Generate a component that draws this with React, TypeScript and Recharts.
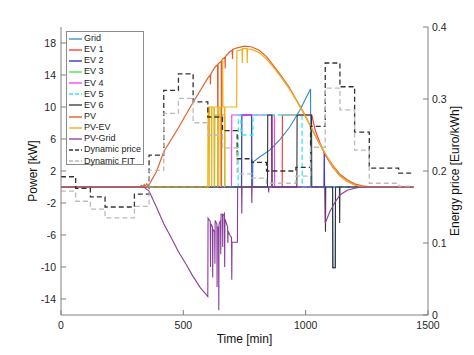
import { LineChart, Line, XAxis, YAxis, Legend } from 'recharts';

type Pt = [number, number];

const xTicks = [0, 500, 1000, 1500];
const powerTicks = [-14, -10, -6, -2, 2, 6, 10, 14, 18];
const priceTicks = [0, 0.1, 0.2, 0.3, 0.4];

// hourly tariff steps (minutes)
const hourStarts = [0, 60, 120, 180, 240, 300, 360, 420, 480, 540, 600, 660, 720, 780, 840, 900, 960, 1020, 1080, 1140, 1200, 1260, 1320, 1380];
const dayEnd = 1440;
const dynamicPrice = [0.192, 0.176, 0.164, 0.15, 0.15, 0.168, 0.222, 0.312, 0.335, 0.296, 0.275, 0.256, 0.217, 0.212, 0.2, 0.2, 0.205, 0.262, 0.35, 0.317, 0.254, 0.204, 0.204, 0.197];
const dynamicFit = [0.172, 0.158, 0.147, 0.135, 0.135, 0.151, 0.201, 0.28, 0.301, 0.267, 0.25, 0.232, 0.196, 0.19, 0.183, 0.183, 0.193, 0.233, 0.315, 0.285, 0.229, 0.183, 0.183, 0.179];

const grid: Pt[] = [[0, 0], [783, 0], [784, 3.1], [812, 3.75], [853, 4.6], [894, 5.9], [935, 7.5], [976, 9.6], [1020, 12.25], [1021, 0], [1110, 0], [1111, -10.1], [1121, -10.1], [1122, 0], [1440, 0]];
const ev1: Pt[] = [[0, 0], [904, 0], [905, 9], [1025, 9], [1040, 7.0], [1060, 5.4], [1080, 4.0], [1110, 2.5], [1140, 1.4], [1170, 0.7], [1200, 0.3], [1230, 0.1], [1260, 0], [1440, 0]];
const ev2: Pt[] = [[0, 0], [738, 0], [739, 9], [779, 9], [780, 0], [1075, 0], [1076, 4.4], [1077, 0], [1440, 0]];
const ev3: Pt[] = [[0, 0], [628, 0], [629, 9], [669, 9], [670, 0], [1440, 0]];
const ev4: Pt[] = [[0, 0], [697, 0], [698, 9], [860, 9], [861, 0], [862, 9], [872, 9], [873, 0], [1440, 0]];
const ev5: Pt[] = [[0, 0], [724, 0], [725, 9], [735, 9], [736, 6.5], [784, 6.5], [785, 9], [985, 9], [986, 0], [1440, 0]];
const ev6: Pt[] = [[0, 0], [844, 0], [845, 9], [862, 9], [863, 0], [964, 0], [965, 9], [1024, 9], [1025, 0], [1080, 0], [1081, -5.6], [1082, 0], [1110, 0], [1111, -10.1], [1121, -10.1], [1122, 0], [1138, 0], [1139, -4.5], [1140, 0], [1440, 0]];
const pv: Pt[] = [[0, 0], [320, 0], [330, 0.2], [335, 0], [340, 0.3], [345, 0.1], [350, 0.4], [355, 0.2], [360, 0.3], [390, 1.9], [420, 4.4], [450, 5.9], [480, 7.4], [510, 9.0], [540, 10.6], [570, 12.1], [600, 13.6], [610, 14.0], [611, 12.8], [612, 14.1], [630, 15.0], [640, 15.3], [641, 0], [642, 15.4], [655, 15.7], [656, 0], [657, 15.8], [660, 16.0], [670, 16.2], [671, 14.8], [672, 16.3], [690, 16.9], [700, 17.1], [701, 16.0], [702, 17.2], [720, 17.4], [750, 17.6], [780, 17.5], [810, 17.1], [840, 16.3], [870, 15.1], [900, 13.9], [930, 12.6], [960, 11], [990, 9.4], [1020, 7.6], [1050, 5.75], [1080, 4.1], [1110, 2.75], [1140, 1.6], [1170, 0.9], [1200, 0.4], [1230, 0.15], [1260, 0.05], [1290, 0], [1440, 0]];
const pvEv: Pt[] = [[0, 0], [600, 0], [601, 10], [605, 10], [606, 0], [607, 10], [615, 10], [616, 0], [617, 10], [625, 10], [626, 0], [627, 10], [640, 10], [641, 0], [642, 10], [650, 10], [651, 0], [652, 10], [660, 10], [661, 16], [662, 10], [668, 10], [669, 0], [670, 10], [718, 10], [719, 17.0], [740, 17.2], [741, 15.5], [742, 17.3], [760, 17.3], [761, 15.5], [762, 17.3], [780, 17.2], [810, 16.8], [840, 16.0], [870, 14.9], [900, 13.7], [930, 12.4], [960, 10.9], [990, 9.3], [1020, 7.6], [1050, 5.8], [1080, 4.2], [1110, 2.6], [1140, 1.4], [1170, 0.7], [1200, 0.25], [1230, 0.05], [1250, 0], [1440, 0]];
const pvGrid: Pt[] = [[0, 0], [340, 0], [350, -0.3], [360, -0.5], [390, -2.5], [420, -4.6], [450, -6.3], [480, -8.1], [510, -9.6], [540, -11.2], [570, -12.6], [600, -13.7], [601, -3.9], [610, -4.3], [611, -10], [612, -4.6], [619, -5], [620, -11.3], [621, -5.3], [628, -5.6], [629, -9.6], [630, -4.2], [637, -4.6], [638, -12.5], [639, -5], [644, -5], [645, -15.4], [646, -4.6], [652, -4.2], [653, -8.4], [654, -3.4], [660, -3.4], [661, -7.5], [662, -3.6], [668, -3.3], [669, -10], [670, -4], [681, -5], [682, -7], [683, -5.5], [690, -6], [697, -6.3], [698, -11.6], [699, -6.9], [721, -6.9], [722, 0], [738, 0], [739, -3.3], [740, 0], [779, 0], [780, -2], [781, 0], [848, 0], [849, -0.7], [850, 0], [1078, 0], [1080, -4.5], [1100, -3.0], [1120, -1.9], [1140, -1.0], [1170, -0.4], [1200, -0.15], [1230, 0], [1440, 0]];

const powerSeries = [
  { name: 'Grid', pts: grid, color: '#2f8ac4', width: 1.1 },
  { name: 'EV 1', pts: ev1, color: '#ff3030', width: 1.1 },
  { name: 'EV 2', pts: ev2, color: '#4040c8', width: 1.3 },
  { name: 'EV 3', pts: ev3, color: '#40e040', width: 1.1 },
  { name: 'EV 4', pts: ev4, color: '#ff33ff', width: 1.1 },
  { name: 'EV 5', pts: ev5, color: '#33ecec', width: 1.3, dash: '5 3' },
  { name: 'EV 6', pts: ev6, color: '#333333', width: 1.1 },
  { name: 'PV', pts: pv, color: '#e0602a', width: 1.2 },
  { name: 'PV-EV', pts: pvEv, color: '#edb120', width: 1.2 },
  { name: 'PV-Grid', pts: pvGrid, color: '#8a3c9c', width: 1.1 },
];

const priceSeries = [
  { name: 'Dynamic price', vals: dynamicPrice, color: '#333333', width: 1.3, dash: '5 3' },
  { name: 'Dynamic FIT', vals: dynamicFit, color: '#bbbbbb', width: 1.3, dash: '5 3' },
];

const toRows = (pts: Pt[]) => pts.map(([t, v]) => ({ t, v }));
const toSteps = (vals: number[]) => [...hourStarts.map((t, i) => ({ t, v: vals[i] })), { t: dayEnd, v: vals[vals.length - 1] }];

const legendItems = [
  ...powerSeries.map(s => ({ name: s.name, color: s.color, dash: s.dash, width: s.width })),
  ...priceSeries.map(s => ({ name: s.name, color: s.color, dash: s.dash, width: s.width })),
];

function LegendBox() {
  return (
    <div style={{ width: 78, height: 134, border: '1px solid #8c8c8c', background: '#fff', boxSizing: 'border-box', paddingTop: 1 }}>
      {legendItems.map(it => (
        <div key={it.name} style={{ display: 'flex', alignItems: 'center', height: 11.15, fontSize: 9, color: '#222', lineHeight: '11px', whiteSpace: 'nowrap' }}>
          <svg width={15} height={6} style={{ marginLeft: 1, marginRight: 1, flexShrink: 0 }}>
            <line x1={1} y1={3} x2={14} y2={3} stroke={it.color} strokeWidth={it.width + 0.2} strokeDasharray={it.dash ? '4 2' : undefined} />
          </svg>
          <span>{it.name}</span>
        </div>
      ))}
    </div>
  );
}

const axisColor = '#808080';
const tickStyle = { fill: '#262626', fontSize: 10.5 };

export default function App() {
  return (
    <div style={{ position: 'absolute', left: 0, top: 0, width: 474, height: 355, background: '#fff', fontFamily: '"Liberation Sans", Arial, sans-serif' }}>
      <LineChart width={474} height={355} margin={{ top: 27, right: 0, bottom: 0, left: 0 }}>
        <XAxis xAxisId="bottom" dataKey="t" type="number" domain={[0, 1500]} ticks={xTicks} allowDataOverflow
          stroke={axisColor} tick={tickStyle} tickSize={-5} tickMargin={12} height={40}
          label={{ value: 'Time [min]', position: 'insideBottom', offset: 12, fill: '#111', fontSize: 12 }} />
        <XAxis xAxisId="top" orientation="top" dataKey="t" type="number" domain={[0, 1500]} ticks={xTicks} allowDataOverflow
          stroke={axisColor} tickSize={-5} height={0} tickFormatter={() => ''} />
        <YAxis yAxisId="power" type="number" domain={[-16, 20]} ticks={powerTicks} allowDataOverflow width={61}
          stroke={axisColor} tick={tickStyle} tickSize={-5} tickMargin={10}
          label={{ value: 'Power [kW]', angle: -90, position: 'insideLeft', offset: 33, fill: '#111', fontSize: 12, style: { textAnchor: 'middle' } }} />
        <YAxis yAxisId="price" orientation="right" type="number" domain={[0, 0.4]} ticks={priceTicks} allowDataOverflow width={46}
          stroke={axisColor} tick={tickStyle} tickSize={-5} tickMargin={9}
          tickFormatter={(v: number) => (v === 0 ? '0' : v.toFixed(1))}
          label={{ value: 'Energy price [Euro/kWh]', angle: -90, position: 'insideRight', offset: 19, fill: '#111', fontSize: 12, style: { textAnchor: 'middle' } }} />
        {powerSeries.map(s => (
          <Line key={s.name} xAxisId="bottom" yAxisId="power" data={toRows(s.pts)} dataKey="v" name={s.name}
            type="linear" stroke={s.color} strokeWidth={s.width} strokeDasharray={s.dash} dot={false} activeDot={false} isAnimationActive={false} />
        ))}
        {priceSeries.map(s => (
          <Line key={s.name} xAxisId="bottom" yAxisId="price" data={toSteps(s.vals)} dataKey="v" name={s.name}
            type="stepAfter" stroke={s.color} strokeWidth={s.width} strokeDasharray={s.dash} dot={false} activeDot={false} isAnimationActive={false} />
        ))}
        <Legend layout="vertical" align="center" verticalAlign="middle" content={() => <LegendBox />}
          wrapperStyle={{ position: 'absolute', left: 66, top: 31, width: 78, height: 134 }} />
      </LineChart>
    </div>
  );
}
